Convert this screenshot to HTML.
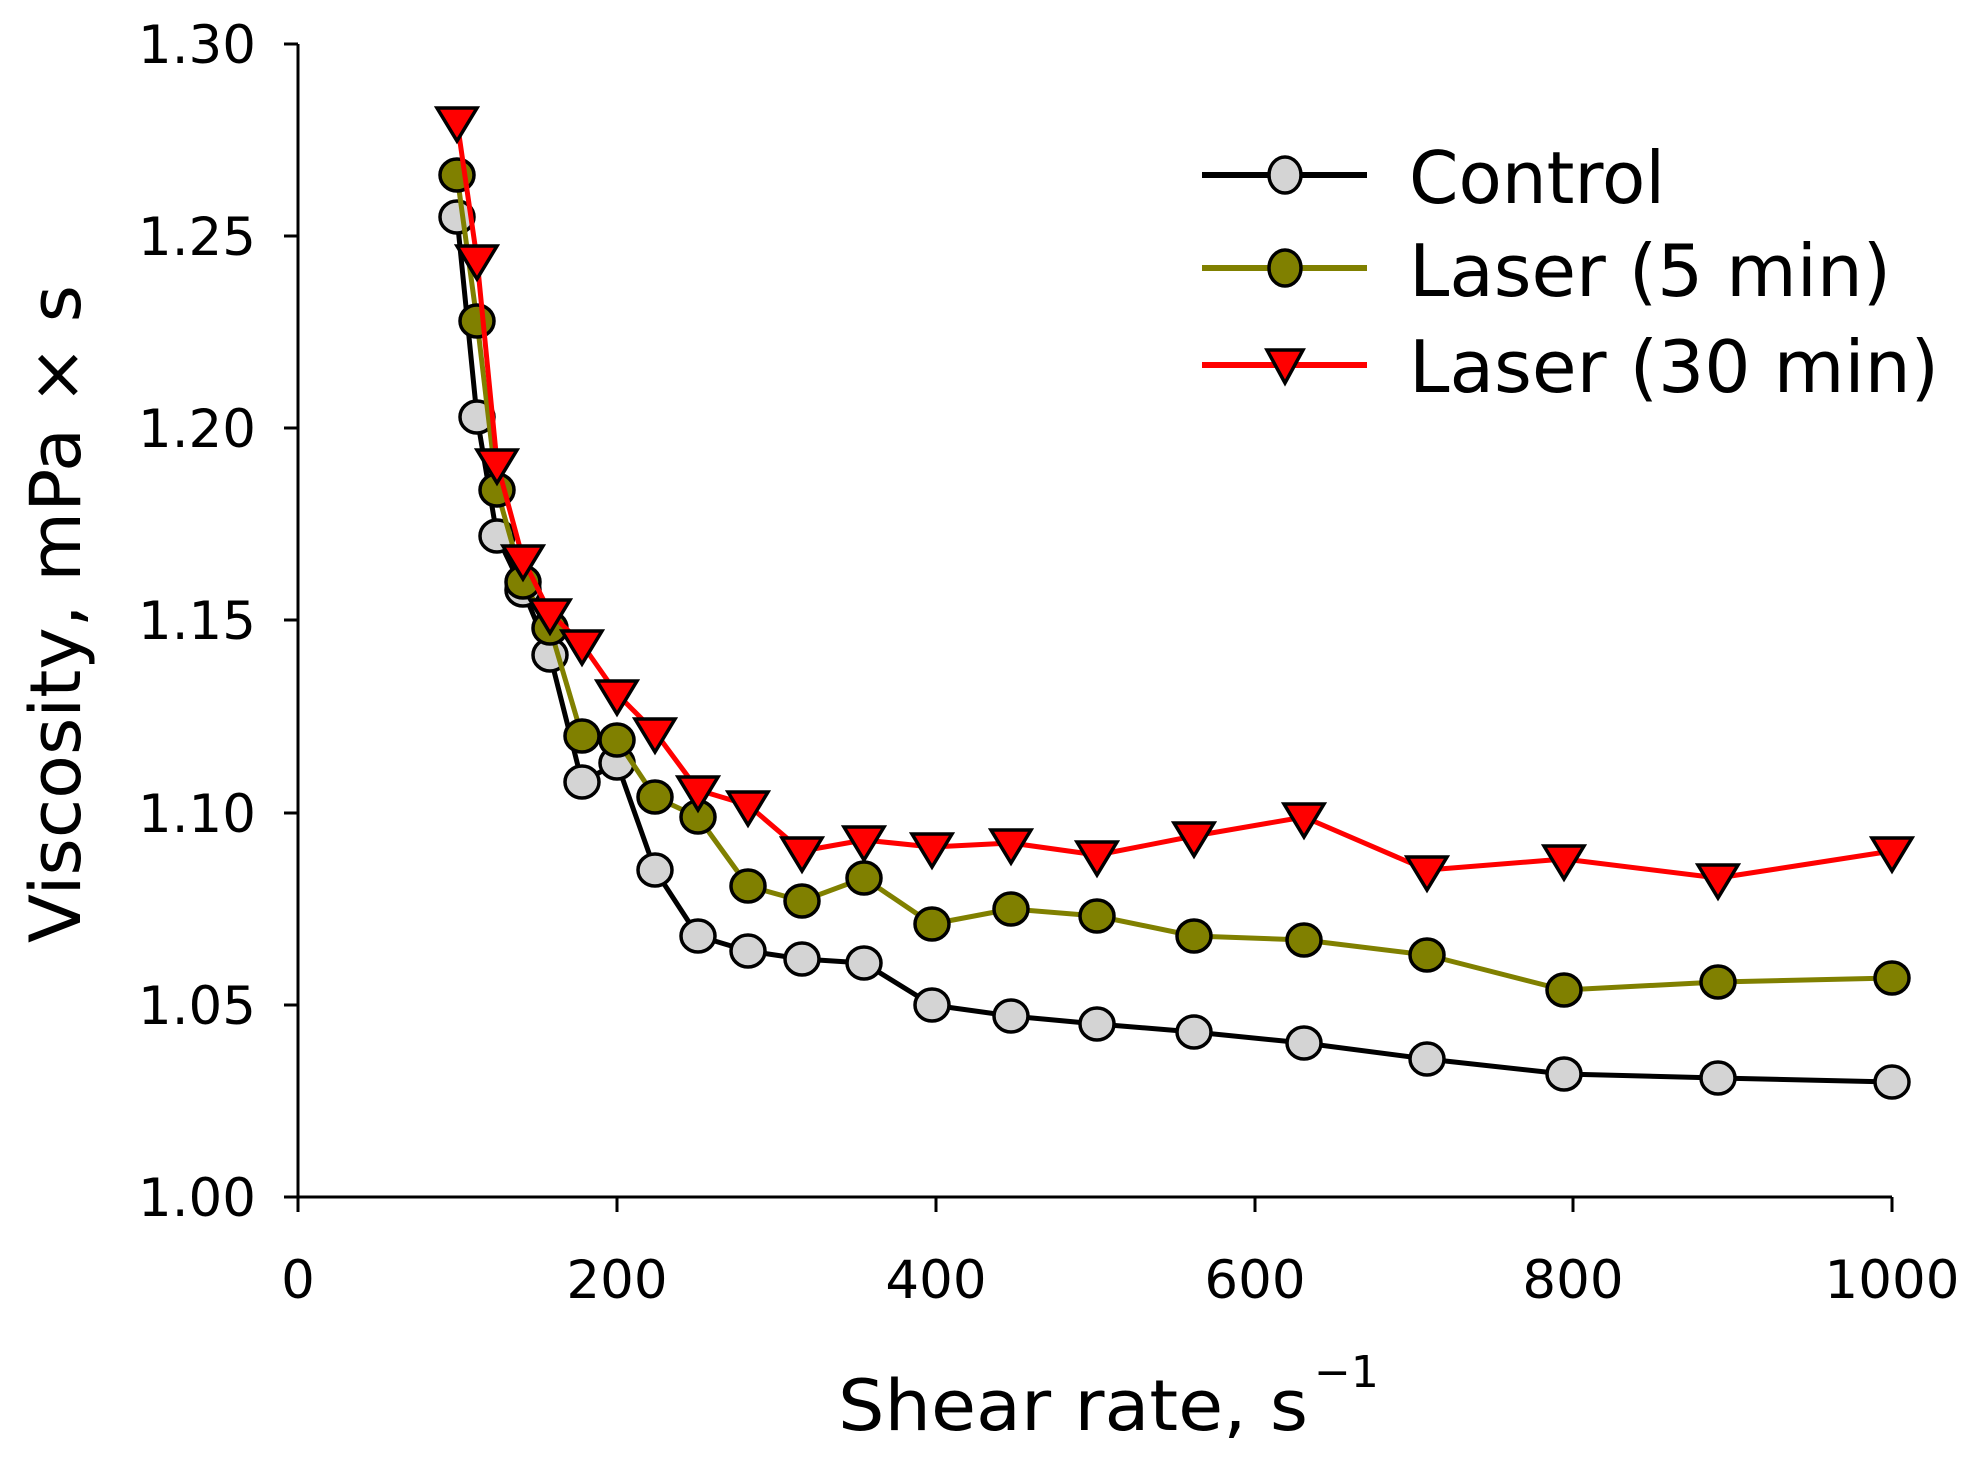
<!DOCTYPE html>
<html><head><meta charset="utf-8"><style>html,body{margin:0;padding:0;background:#fff}svg{display:block}</style></head>
<body>
<svg width="1980" height="1468" viewBox="0 0 1980 1468" xmlns="http://www.w3.org/2000/svg" font-family="'DejaVu Sans','Liberation Sans',sans-serif">
<defs>
<marker id="mc" markerUnits="userSpaceOnUse" markerWidth="40" markerHeight="40" refX="20" refY="20" overflow="visible"><ellipse cx="20" cy="20" rx="17" ry="16" fill="#d4d4d4" stroke="#000" stroke-width="3.5"/></marker>
<marker id="mo" markerUnits="userSpaceOnUse" markerWidth="40" markerHeight="40" refX="20" refY="20" overflow="visible"><ellipse cx="20" cy="20" rx="17" ry="16" fill="#808000" stroke="#000" stroke-width="3.5"/></marker>
<marker id="mt" markerUnits="userSpaceOnUse" markerWidth="40" markerHeight="40" refX="20" refY="20" overflow="visible"><polygon points="0,7 40,7 20,40" fill="#ff0000" stroke="#000" stroke-width="3.5" stroke-linejoin="miter"/></marker>
</defs>
<g stroke="#000" stroke-width="3" fill="none">
<line x1="298" y1="44" x2="298" y2="1212"/>
<line x1="284" y1="1197" x2="1892" y2="1197"/>
<line x1="284" y1="44" x2="298" y2="44"/>
<line x1="284" y1="236" x2="298" y2="236"/>
<line x1="284" y1="428" x2="298" y2="428"/>
<line x1="284" y1="620" x2="298" y2="620"/>
<line x1="284" y1="813" x2="298" y2="813"/>
<line x1="284" y1="1005" x2="298" y2="1005"/>
<line x1="617" y1="1197" x2="617" y2="1212"/>
<line x1="936" y1="1197" x2="936" y2="1212"/>
<line x1="1255" y1="1197" x2="1255" y2="1212"/>
<line x1="1573" y1="1197" x2="1573" y2="1212"/>
<line x1="1892" y1="1197" x2="1892" y2="1212"/>
</g>
<g font-size="53" text-anchor="end" fill="#000">
<text x="256" y="63">1.30</text>
<text x="256" y="255">1.25</text>
<text x="256" y="447">1.20</text>
<text x="256" y="639">1.15</text>
<text x="256" y="832">1.10</text>
<text x="256" y="1024">1.05</text>
<text x="256" y="1216">1.00</text>
</g>
<g font-size="53" text-anchor="middle" fill="#000">
<text x="298" y="1298">0</text>
<text x="617" y="1298">200</text>
<text x="936" y="1298">400</text>
<text x="1255" y="1298">600</text>
<text x="1573" y="1298">800</text>
<text x="1892" y="1298">1000</text>
</g>
<text x="838" y="1430" font-size="70" textLength="470" lengthAdjust="spacingAndGlyphs">Shear rate, s</text>
<text x="1314" y="1387" font-size="44">−1</text>
<text transform="translate(80,943) rotate(-90)" font-size="70" textLength="658" lengthAdjust="spacingAndGlyphs">Viscosity, mPa × s</text>
<polyline fill="none" stroke="#000" stroke-width="5" stroke-linejoin="round" marker-start="url(#mc)" marker-mid="url(#mc)" marker-end="url(#mc)"
points="457,217 477,417 497,536 523,590 550,655 582,782 617,763 655,870 698,936 748,951 802,959 864,963 932,1005 1011,1016 1097,1024 1194,1032 1304,1043 1427,1059 1564,1074 1718,1078 1892,1082"/>
<polyline fill="none" stroke="#808000" stroke-width="5" stroke-linejoin="round" marker-start="url(#mo)" marker-mid="url(#mo)" marker-end="url(#mo)"
points="457,175 477,321 497,490 523,582 550,628 582,736 617,740 655,797 698,817 748,886 802,901 864,878 932,924 1011,909 1097,916 1194,936 1304,940 1427,955 1564,990 1718,982 1892,978"/>
<polyline fill="none" stroke="#ff0000" stroke-width="5" stroke-linejoin="round" marker-start="url(#mt)" marker-mid="url(#mt)" marker-end="url(#mt)"
points="457,121 477,259 497,463 523,559 550,613 582,644 617,694 655,732 698,790 748,805 802,851 864,840 932,847 1011,843 1097,855 1194,836 1304,817 1427,870 1564,859 1718,878 1892,851"/>
<line x1="1202" y1="175" x2="1367" y2="175" stroke="#000" stroke-width="6"/>
<ellipse cx="1285" cy="175" rx="16" ry="18" fill="#d4d4d4" stroke="#000" stroke-width="3.5"/>
<line x1="1202" y1="268" x2="1367" y2="268" stroke="#808000" stroke-width="6"/>
<ellipse cx="1285" cy="268" rx="16" ry="18" fill="#808000" stroke="#000" stroke-width="3.5"/>
<line x1="1202" y1="365" x2="1367" y2="365" stroke="#ff0000" stroke-width="6"/>
<polygon points="1267,350 1303,350 1285,383" fill="#ff0000" stroke="#000" stroke-width="3.5"/>
<g font-size="72" fill="#000">
<text x="1409" y="203" textLength="256" lengthAdjust="spacingAndGlyphs">Control</text>
<text x="1409" y="296" textLength="482" lengthAdjust="spacingAndGlyphs">Laser (5 min)</text>
<text x="1409" y="392" textLength="530" lengthAdjust="spacingAndGlyphs">Laser (30 min)</text>
</g>
</svg>
</body></html>
